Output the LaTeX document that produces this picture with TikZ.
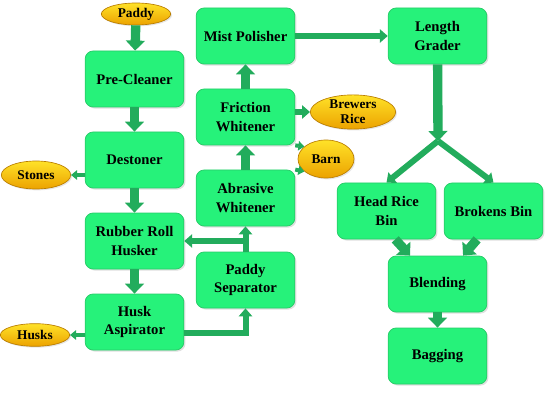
\documentclass[tikz,border=0pt]{standalone}
\usepackage{fontspec}
\setmainfont{Liberation Serif}
\usetikzlibrary{arrows.meta,shapes.geometric,shadows}
\definecolor{boxgreen}{RGB}{38,242,122}
\definecolor{boxedge}{RGB}{40,205,105}
\definecolor{arrowgreen}{RGB}{34,172,92}
\definecolor{grainhi}{RGB}{255,226,40}
\definecolor{grainlo}{RGB}{236,162,0}
\definecolor{grainedge}{RGB}{185,125,0}

\begin{document}
\begin{tikzpicture}
  [x=0.75pt,y=-0.75pt,
   stage/.style={rectangle,rounded corners=6pt,fill=boxgreen,draw=boxedge,line width=0.6pt,
     minimum width=74pt,minimum height=42pt,align=center,inner sep=1pt,
     font=\fontsize{11}{14}\selectfont\bfseries,
     drop shadow={opacity=0.25,shadow xshift=1.2pt,shadow yshift=-1.2pt}},
   waste/.style={ellipse,top color=grainhi,bottom color=grainlo,draw=grainedge,line width=0.5pt,
     inner sep=0pt,align=center,font=\fontsize{10}{11.5}\selectfont\bfseries,
     drop shadow={opacity=0.2,shadow xshift=1pt,shadow yshift=-1pt}},
   bigarrow/.style={draw=arrowgreen,line width=7pt,-{Triangle[width=14pt,length=7.5pt]}},
   midarrow/.style={draw=arrowgreen,line width=4.5pt,-{Triangle[width=10pt,length=6pt]}},
   smallarrow/.style={draw=arrowgreen,line width=3pt,-{Triangle[width=7pt,length=4.5pt]}}]
  \useasboundingbox (0,0) rectangle (547,410);

  \node[waste,minimum width=52pt,minimum height=16.5pt] (pd) at (136,14) {Paddy};
  \node[stage] (pc) at (134.5,79) {Pre-Cleaner};
  \node[stage] (ds) at (134.5,160) {Destoner};
  \node[waste,minimum width=52pt,minimum height=21pt] (st) at (36,175) {Stones};
  \node[stage] (rrh) at (134.5,241) {Rubber Roll\\Husker};
  \node[stage] (ha) at (134.5,322) {Husk\\Aspirator};
  \node[waste,minimum width=52pt,minimum height=17pt] (hk) at (35,335) {Husks};

  \node[stage] (mp) at (245.5,36) {Mist Polisher};
  \node[stage] (fw) at (245.5,117) {Friction\\Whitener};
  \node[stage] (abr) at (245.5,198) {Abrasive\\Whitener};
  \node[stage] (sep) at (245.5,280) {Paddy\\Separator};
  \node[waste,minimum width=64pt,minimum height=25pt] (br) at (353,112) {Brewers\\Rice};
  \node[waste,minimum width=42pt,minimum height=28.5pt] (barn) at (326,159) {Barn};

  \node[stage] (lg) at (437.5,36) {Length\\Grader};
  \node[stage] (hr) at (386.5,211) {Head Rice\\Bin};
  \node[stage] (bb) at (493.5,211) {Brokens Bin};
  \node[stage] (bl) at (437.5,284) {Blending};
  \node[stage] (bg) at (437.5,356) {Bagging};
  \coordinate (split) at (438,141);

  \foreach \from/\to in {pd/pc,pc/ds,ds/rrh,rrh/ha,abr/fw,fw/mp,bl/bg}
    \draw[bigarrow] (\from) -- (\to);

  \draw[smallarrow] (ds.west |- st) -- (st.east);
  \draw[smallarrow] (ha.west |- hk) -- (hk.east);
  \draw[midarrow] ([yshift=-8pt]ha.east) -| (sep.south);
  \draw[midarrow] (sep.north) |- (rrh.east);
  \draw[midarrow] (sep.north) -- (abr.south);
  \draw[midarrow] (fw.east |- br) -- (br.west);
  \draw[smallarrow] (fw.south east) -- (barn.150);
  \draw[smallarrow] (abr.north east) -- (barn.210);
  \draw[midarrow] (mp) -- (lg);
  \draw[bigarrow] (lg) -- (split);
  \draw[midarrow] (split) -- (hr.north);
  \draw[midarrow] (split) -- (bb.north);
  \draw[bigarrow] (hr.287) -- (bl.134);
  \draw[bigarrow] (bb.240) -- (bl.48);
\end{tikzpicture}
\end{document}
